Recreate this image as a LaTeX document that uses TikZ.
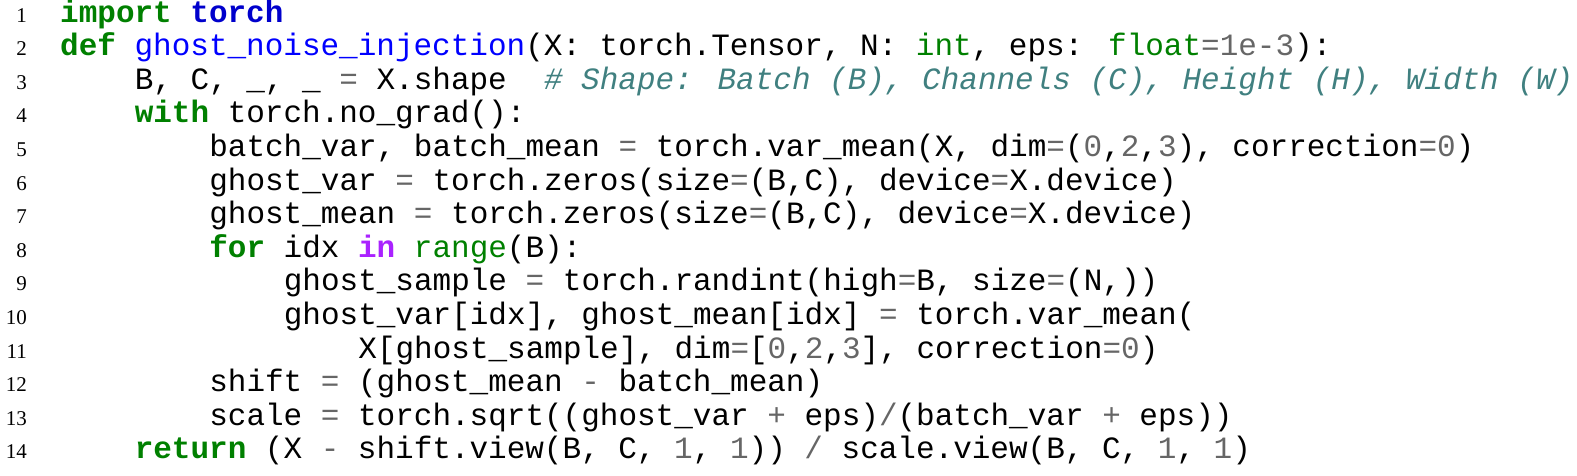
\documentclass[tikz,border=0pt]{standalone}
\usepackage{fontspec}
\setmainfont{Liberation Serif}
\newfontfamily\code{Liberation Mono}
\definecolor{kw}{HTML}{008000}
\definecolor{mod}{HTML}{0000CC}
\definecolor{fn}{HTML}{0000FF}
\definecolor{op}{HTML}{666666}
\definecolor{cm}{HTML}{408080}
\definecolor{pp}{HTML}{AA22FF}
\newcommand\Kw[1]{\textcolor{kw}{\bfseries #1}}
\newcommand\Md[1]{\textcolor{mod}{\bfseries #1}}
\newcommand\Fn[1]{\textcolor{fn}{#1}}
\newcommand\Bi[1]{\textcolor{kw}{#1}}
\newcommand\Op[1]{\textcolor{op}{#1}}
\newcommand\Cm[1]{\textcolor{cm}{\itshape #1}}
\newcommand\Pp[1]{\textcolor{pp}{\bfseries #1}}
\begin{document}
\begin{tikzpicture}[x=1pt,y=1pt,
  cl/.style={anchor=base west,inner sep=0pt,font=\code\fontsize{31}{33}\selectfont},
  ln/.style={anchor=base east,inner sep=0pt,font=\fontsize{21}{24}\selectfont}]
\useasboundingbox (0,0) rectangle (1577,-475);
\def\cw{18.64}
\foreach \i in {1,...,14} {\node[ln] (n\i) at (27,{-22-(\i-1)*33.6}) {\i};}
\node[cl] (l1) at ({60+0*\cw},-22) {\Kw{import} \Md{torch}};
\node[cl] (l2) at ({60+0*\cw},{-22-1*33.6}) {\Kw{def} \Fn{ghost\_noise\_injection}(X: torch.Tensor, N: \Bi{int}, eps: \Bi{float}\Op{=}\Op{1e-3}):};
\node[cl] (l3) at ({60+4*\cw},{-22-2*33.6}) {B, C, \_, \_ \Op{=} X.shape\ \ \Cm{\# Shape: Batch (B), Channels (C), Height (H), Width (W)}};
\node[cl] (l4) at ({60+4*\cw},{-22-3*33.6}) {\Kw{with} torch.no\_grad():};
\node[cl] (l5) at ({60+8*\cw},{-22-4*33.6}) {batch\_var, batch\_mean \Op{=} torch.var\_mean(X, dim\Op{=}(\Op{0},\Op{2},\Op{3}), correction\Op{=}\Op{0})};
\node[cl] (l6) at ({60+8*\cw},{-22-5*33.6}) {ghost\_var \Op{=} torch.zeros(size\Op{=}(B,C), device\Op{=}X.device)};
\node[cl] (l7) at ({60+8*\cw},{-22-6*33.6}) {ghost\_mean \Op{=} torch.zeros(size\Op{=}(B,C), device\Op{=}X.device)};
\node[cl] (l8) at ({60+8*\cw},{-22-7*33.6}) {\Kw{for} idx \Pp{in} \Bi{range}(B):};
\node[cl] (l9) at ({60+12*\cw},{-22-8*33.6}) {ghost\_sample \Op{=} torch.randint(high\Op{=}B, size\Op{=}(N,))};
\node[cl] (l10) at ({60+12*\cw},{-22-9*33.6}) {ghost\_var[idx], ghost\_mean[idx] \Op{=} torch.var\_mean(};
\node[cl] (l11) at ({60+16*\cw},{-22-10*33.6}) {X[ghost\_sample], dim\Op{=}[\Op{0},\Op{2},\Op{3}], correction\Op{=}\Op{0})};
\node[cl] (l12) at ({60+8*\cw},{-22-11*33.6}) {shift \Op{=} (ghost\_mean \Op{-} batch\_mean)};
\node[cl] (l13) at ({60+8*\cw},{-22-12*33.6}) {scale \Op{=} torch.sqrt((ghost\_var \Op{+} eps)\Op{/}(batch\_var \Op{+} eps))};
\node[cl] (l14) at ({60+4*\cw},{-22-13*33.6}) {\Kw{return} (X \Op{-} shift.view(B, C, \Op{1}, \Op{1})) \Op{/} scale.view(B, C, \Op{1}, \Op{1})};
\end{tikzpicture}
\end{document}
